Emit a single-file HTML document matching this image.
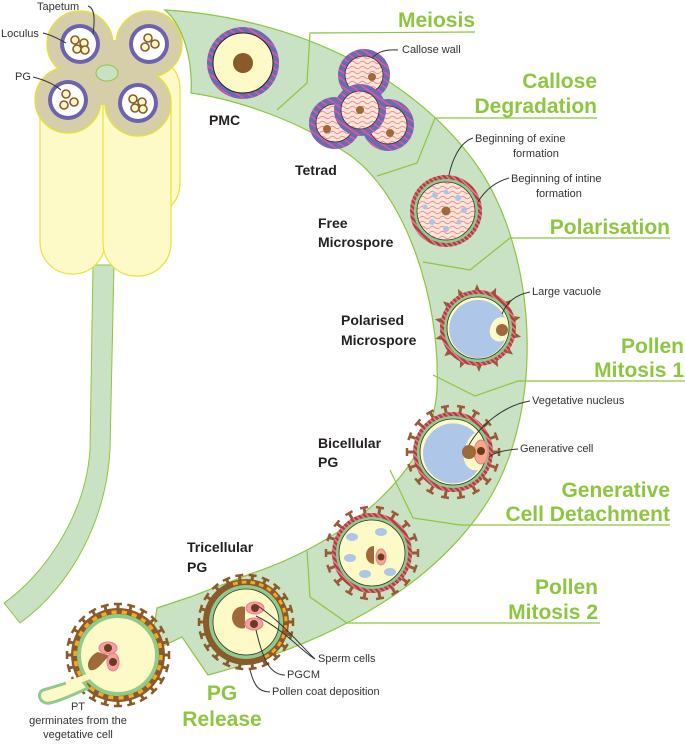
<!DOCTYPE html>
<html><head><meta charset="utf-8"><style>
html,body{margin:0;padding:0;background:#fff;}
svg{display:block;}
.g{font-family:"Liberation Sans",sans-serif;font-weight:bold;fill:#8dc63f;font-size:21px;}
.b{font-family:"Liberation Sans",sans-serif;font-weight:bold;fill:#231f20;font-size:14px;}
.s{font-family:"Liberation Sans",sans-serif;fill:#333;font-size:11px;}
.ld{fill:none;stroke:#333;stroke-width:1;}
</style></head><body>
<svg id="sv" width="685" height="745" viewBox="0 0 685 745" xmlns="http://www.w3.org/2000/svg">
<defs>
<pattern id="cal" width="6" height="6" patternUnits="userSpaceOnUse" patternTransform="rotate(35)">
<rect width="6" height="6" fill="#6a6ab5"/><rect width="6" height="1.6" fill="#e0579b"/></pattern>
<pattern id="wav" width="10" height="5" patternUnits="userSpaceOnUse">
<rect width="10" height="5" fill="#fde6d6"/><path d="M0,2.5 Q2.5,0 5,2.5 T10,2.5" stroke="#f08a9a" stroke-width="0.9" fill="none"/></pattern>
<pattern id="red" width="4" height="4" patternUnits="userSpaceOnUse" patternTransform="rotate(45)">
<rect width="4" height="4" fill="#a8443e"/><rect width="4" height="1.5" fill="#e87b8f"/></pattern>
</defs>

<!-- anther -->
<path d="M93,265 L90,450 C85,520 40,578 4,603 L20,623 C72,585 106,520 110,450 L114,265Z" fill="#c8e2c3" stroke="#8dc63f" stroke-width="1"/>
<rect x="108" y="55" width="72" height="162" rx="34" fill="#fefac8" stroke="#e6e23a" stroke-width="1.2"/>
<rect x="40" y="70" width="65" height="204" rx="32" fill="#fefac8" stroke="#e6e23a" stroke-width="1.2"/>
<rect x="103" y="70" width="68" height="206" rx="33" fill="#fefac8" stroke="#e6e23a" stroke-width="1.2"/>
<g fill="#d6cea9" stroke="#e6e23a" stroke-width="1.4">
<circle cx="80" cy="44" r="33"/><circle cx="149" cy="44" r="33"/><circle cx="68" cy="100" r="33"/><circle cx="138" cy="103" r="33"/>
</g>
<g fill="#d6cea9">
<circle cx="80" cy="44" r="32"/><circle cx="149" cy="44" r="32"/><circle cx="68" cy="100" r="32"/><circle cx="138" cy="103" r="32"/>
<rect x="70" y="40" width="75" height="65"/>
</g>
<ellipse cx="107" cy="73" rx="11" ry="8" fill="#c8e2c3" stroke="#8dc63f"/>
<g id="locs"></g>

<!-- band -->
<path d="M165,10 C300,18 420,80 480,170 C540,262 545,420 482,510 C430,585 340,640 208,675 L182,637 L150,652 L157,608 L190,597 L253,573 C350,540 432,470 437,390 C441,300 405,190 345,152 C300,122 240,100 191,93 C193,60 183,25 165,10Z" fill="#c8e2c3" stroke="#8dc63f" stroke-width="1.2"/>
<g fill="none" stroke="#8dc63f" stroke-width="1.2">
<polyline points="277,110 307,83 310,33 475,32"/>
<polyline points="377,176 417,163 435,118 597,118"/>
<polyline points="423,262 470,270 510,238 670,238"/>
<polyline points="433,375 475,396 518,381 685,381"/>
<polyline points="390,470 413,518 460,525 670,525"/>
<polyline points="307,550 310,597 347,623 600,623"/>
</g>

<!-- PMC -->
<circle cx="243" cy="63" r="36" fill="url(#cal)"/>
<circle cx="243" cy="63" r="30" fill="#fefac8" stroke="#231f20" stroke-width="1"/>
<circle cx="243" cy="63" r="10" fill="#8b5a2b"/>

<g id="tet"></g>

<!-- free microspore -->
<circle cx="446" cy="211" r="36" fill="url(#red)"/>
<circle cx="446" cy="211" r="32" fill="#8fcb8a"/>
<circle cx="446" cy="211" r="29" fill="url(#wav)" stroke="#333" stroke-width="0.8"/>
<g fill="#a9c6e8"><circle cx="435" cy="195" r="3"/><circle cx="446" cy="192" r="2.5"/><circle cx="458" cy="198" r="3"/><circle cx="425" cy="207" r="2.5"/><circle cx="464" cy="210" r="3"/><circle cx="432" cy="222" r="3"/><circle cx="459" cy="222" r="2.5"/><circle cx="446" cy="229" r="3"/></g>
<circle cx="446" cy="211" r="4.5" fill="#a0693a"/>

<g id="cells"></g>

<text class="b" x="209" y="125">PMC</text>
<text class="b" x="295" y="175">Tetrad</text>
<text class="b" x="318" y="228">Free</text><text class="b" x="318" y="247">Microspore</text>
<text class="b" x="341" y="325">Polarised</text><text class="b" x="341" y="345">Microspore</text>
<text class="b" x="318" y="448">Bicellular</text><text class="b" x="318" y="467">PG</text>
<text class="b" x="187" y="552">Tricellular</text><text class="b" x="187" y="572">PG</text>

<g class="g" text-anchor="end">
<text x="475" y="27">Meiosis</text>
<text x="597" y="88">Callose</text><text x="597" y="113">Degradation</text>
<text x="670" y="234">Polarisation</text>
<text x="684" y="353">Pollen</text><text x="684" y="377">Mitosis 1</text>
<text x="670" y="497">Generative</text><text x="670" y="521">Cell Detachment</text>
<text x="598" y="594">Pollen</text><text x="598" y="619">Mitosis 2</text>
</g>
<g class="g" text-anchor="middle"><text x="222" y="700">PG</text><text x="222" y="726">Release</text></g>

<text class="s" x="37" y="10">Tapetum</text>
<path class="ld" d="M88,6 C95,8 95,20 93,34"/>
<text class="s" x="1" y="37">Loculus</text>
<path class="ld" d="M43,33 C55,36 60,40 66,43"/>
<text class="s" x="15" y="80">PG</text>
<path class="ld" d="M33,77 C45,80 55,85 61,90"/>
<text class="s" x="402" y="53">Callose wall</text>
<path class="ld" d="M398,50 C385,49 378,52 372,58"/>
<text class="s" x="475" y="142">Beginning of exine</text><text class="s" x="513" y="157">formation</text>
<path class="ld" d="M473,138 C460,142 452,160 449,175"/>
<text class="s" x="511" y="182">Beginning of intine</text><text class="s" x="536" y="197">formation</text>
<path class="ld" d="M509,178 C495,182 485,190 478,202"/>
<text class="s" x="532" y="295">Large vacuole</text>
<path class="ld" d="M530,292 C515,295 507,302 502,314"/>
<text class="s" x="532" y="404">Vegetative nucleus</text>
<path class="ld" d="M530,401 C505,405 480,425 469,445"/>
<text class="s" x="520" y="452">Generative cell</text>
<path class="ld" d="M518,449 C505,450 495,452 489,457"/>
<text class="s" x="318" y="662">Sperm cells</text>
<path class="ld" d="M315,659 C300,650 285,630 256,616 M315,659 C300,645 285,625 258,606"/>
<text class="s" x="287" y="678">PGCM</text>
<path class="ld" d="M285,675 C270,675 263,660 256,630"/>
<text class="s" x="272" y="695">Pollen coat deposition</text>
<path class="ld" d="M270,692 C258,692 254,685 250,670"/>
<text class="s" x="78" y="710" text-anchor="middle">PT</text>
<text class="s" x="78" y="724" text-anchor="middle">germinates from the</text>
<text class="s" x="78" y="738" text-anchor="middle">vegetative cell</text>
</svg>
<script>
var NS="http://www.w3.org/2000/svg";
function el(p,t,a){var e=document.createElementNS(NS,t);for(var k in a)e.setAttribute(k,a[k]);p.appendChild(e);return e;}
var locs=document.getElementById('locs');
[[80,44],[149,44],[68,100],[138,103]].forEach(function(c,i){
 el(locs,'circle',{cx:c[0],cy:c[1],r:20,fill:'#6b62b0'});
 el(locs,'circle',{cx:c[0],cy:c[1],r:16,fill:'#fff'});
 var pts=[[-5,-4],[4,-1],[-3,5],[5,6]];
 if(i==1)pts=[[-1,-6],[6,0],[-4,3]];
 if(i==2)pts=[[-2,-6],[-4,5],[6,2]];
 pts.forEach(function(p){el(locs,'circle',{cx:c[0]+p[0],cy:c[1]+p[1],r:4,fill:'#fefac8',stroke:'#8b5a2b','stroke-width':1.6});});
});
var tet=document.getElementById('tet');
[[364,75,8,2],[335,123,-8,6],[388,125,2,8],[360,110,0,0]].forEach(function(c){
 el(tet,'circle',{cx:c[0],cy:c[1],r:26,fill:'url(#cal)'});
 el(tet,'circle',{cx:c[0],cy:c[1],r:19,fill:'url(#wav)',stroke:'#333','stroke-width':0.8});
 el(tet,'circle',{cx:c[0]+c[2],cy:c[1]+c[3],r:4,fill:'#a0693a'});
});
var g=document.getElementById('cells');
function teeth(cx,cy,r,n,len,col,w){
 for(var i=0;i<n;i++){var a=i/n*2*Math.PI;var x1=cx+r*Math.cos(a),y1=cy+r*Math.sin(a),x2=cx+(r+len)*Math.cos(a),y2=cy+(r+len)*Math.sin(a);
 el(g,'line',{x1:x1,y1:y1,x2:x2,y2:y2,stroke:col,'stroke-width':w});
 var tx=-Math.sin(a)*4,ty=Math.cos(a)*4;
 el(g,'line',{x1:x2-tx,y1:y2-ty,x2:x2+tx,y2:y2+ty,stroke:col,'stroke-width':2.5});}
}
function spikes(cx,cy,r,n,len,col){
 for(var i=0;i<n;i++){var a=i/n*2*Math.PI+0.2;var p=[];
 p.push((cx+r*Math.cos(a-0.08))+','+(cy+r*Math.sin(a-0.08)));
 p.push((cx+(r+len)*Math.cos(a))+','+(cy+(r+len)*Math.sin(a)));
 p.push((cx+r*Math.cos(a+0.08))+','+(cy+r*Math.sin(a+0.08)));
 el(g,'polygon',{points:p.join(' '),fill:col});}
}
spikes(478,328,37,14,7,'#9a5a3a');
el(g,'circle',{cx:478,cy:328,r:38,fill:'url(#red)'});
el(g,'circle',{cx:478,cy:328,r:34,fill:'#8fcb8a'});
el(g,'circle',{cx:478,cy:328,r:31,fill:'#fefac8',stroke:'#333','stroke-width':0.8});
el(g,'path',{d:'M505,318 A29,29 0 1 0 505,340 C495,345 488,336 490,329 C492,320 498,315 505,318Z',fill:'#aec6e8'});
el(g,'circle',{cx:502,cy:330,r:6,fill:'#a0693a'});
teeth(453,452,38,18,8,'#9a5a3a',3);
el(g,'circle',{cx:453,cy:452,r:40,fill:'url(#red)'});
el(g,'circle',{cx:453,cy:452,r:36,fill:'#8fcb8a'});
el(g,'circle',{cx:453,cy:452,r:33,fill:'#fefac8',stroke:'#333','stroke-width':0.8});
el(g,'path',{d:'M475,433 A30,30 0 1 0 478,470 C468,472 462,462 464,452 C466,442 470,436 475,433Z',fill:'#aec6e8'});
el(g,'ellipse',{cx:481,cy:452,rx:7,ry:12,fill:'#f6a88a',stroke:'#e87b8f'});
el(g,'circle',{cx:469,cy:452,r:7,fill:'#a0693a'});
el(g,'circle',{cx:481,cy:451,r:4,fill:'#6b3a1f'});
teeth(372,553,38,18,8,'#9a5a3a',3);
el(g,'circle',{cx:372,cy:553,r:40,fill:'url(#red)'});
el(g,'circle',{cx:372,cy:553,r:36,fill:'#8fcb8a'});
el(g,'circle',{cx:372,cy:553,r:33,fill:'#fefac8',stroke:'#333','stroke-width':0.8});
[[352,537],[381,532],[350,558],[365,574],[390,572]].forEach(function(p){el(g,'ellipse',{cx:p[0],cy:p[1],rx:6,ry:4,fill:'#aec6e8'});});
el(g,'path',{d:'M374,546 A8,9 0 1 0 374,564Z',fill:'#a0693a'});
el(g,'ellipse',{cx:381,cy:557,rx:5,ry:8,fill:'#f6a88a',stroke:'#e87b8f'});
el(g,'circle',{cx:381,cy:557,r:3.5,fill:'#6b3a1f'});
teeth(246,622,41,22,6,'#8b5a2b',3);
el(g,'circle',{cx:246,cy:622,r:43,fill:'#8b5a2b'});
for(var i=0;i<14;i++){var a=-1.9+i*0.22;el(g,'line',{x1:246+40*Math.cos(a),y1:622+40*Math.sin(a),x2:246+40*Math.cos(a+0.12),y2:622+40*Math.sin(a+0.12),stroke:'#f7a823','stroke-width':3});}
el(g,'circle',{cx:246,cy:622,r:37,fill:'#8fcb8a'});
el(g,'circle',{cx:246,cy:622,r:33,fill:'#fefac8',stroke:'#333','stroke-width':0.8});
el(g,'path',{d:'M245,607 A10,11 0 1 0 245,628Z',fill:'#a0693a'});
el(g,'ellipse',{cx:255,cy:608,rx:9,ry:6,fill:'#f4a0a0',stroke:'#e87b8f'});
el(g,'ellipse',{cx:254,cy:624,rx:9,ry:6,fill:'#f4a0a0',stroke:'#e87b8f'});
el(g,'circle',{cx:255,cy:608,r:4,fill:'#6b3a1f'});el(g,'circle',{cx:254,cy:624,r:4,fill:'#6b3a1f'});
teeth(118,655,45,24,6,'#8b5a2b',3);
el(g,'circle',{cx:118,cy:655,r:47,fill:'#8b5a2b'});
for(var i=0;i<26;i++){var a=i*0.24;el(g,'line',{x1:118+43*Math.cos(a),y1:655+43*Math.sin(a),x2:118+43*Math.cos(a+0.12),y2:655+43*Math.sin(a+0.12),stroke:'#f7a823','stroke-width':3.5});}
el(g,'path',{d:'M80,678 C65,684 50,688 43,690 C36,693 40,705 50,703 C62,700 75,694 88,688Z',fill:'#fefac8',stroke:'#8fcb8a','stroke-width':3});
el(g,'circle',{cx:118,cy:655,r:39,fill:'#fefac8',stroke:'#8fcb8a','stroke-width':4});
el(g,'path',{d:'M66,684 C75,682 82,679 90,676',stroke:'#fefac8','stroke-width':6,fill:'none'});
el(g,'path',{d:'M98,652 C90,655 85,665 90,670 C98,672 103,660 110,656Z',fill:'#a0693a'});
el(g,'ellipse',{cx:108,cy:648,rx:9,ry:6,fill:'#f4a0a0',stroke:'#e87b8f'});
el(g,'ellipse',{cx:113,cy:662,rx:6,ry:9,fill:'#f4a0a0',stroke:'#e87b8f'});
el(g,'circle',{cx:108,cy:648,r:4,fill:'#6b3a1f'});el(g,'circle',{cx:113,cy:662,r:4,fill:'#6b3a1f'});
</script>
</body></html>
